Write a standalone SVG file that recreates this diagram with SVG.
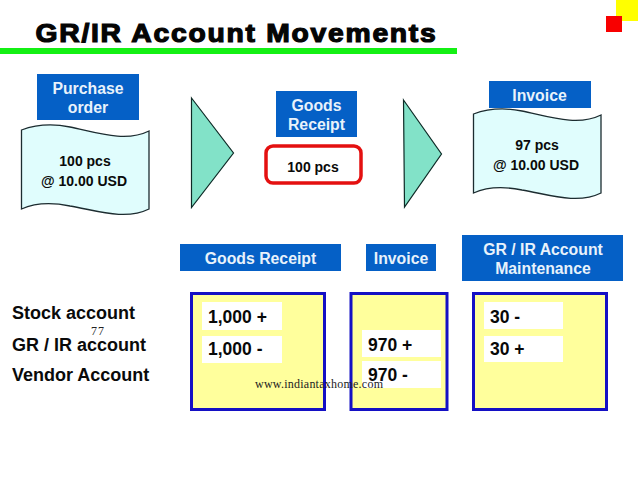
<svg xmlns="http://www.w3.org/2000/svg" width="638" height="479" viewBox="0 0 638 479">
<style>
text{font-family:"Liberation Sans",Arial,sans-serif;font-weight:bold}
.hd{fill:#0560c6}
.ht{fill:#e8f2fb;font-size:15.800px;text-anchor:middle}
.doc{fill:#e0fdfd;stroke:#1c2c30;stroke-width:1.3}
.dt{fill:#0a0a0a;font-size:14px;text-anchor:middle}
.tri{fill:#82e2c8;stroke:#0d2a26;stroke-width:1.2}
.pan{fill:#ffff9c;stroke:#1410c4;stroke-width:3}
.wb{fill:#fff}
.v{fill:#080808;font-size:17.500px}
.l{fill:#0a0a0a;font-size:18px}
.s{font-family:"Liberation Serif",serif;font-weight:normal;fill:#222;font-size:12px}
</style>
<rect width="638" height="479" fill="#fff"/>
<g id="decor">
<rect x="616" y="0" width="22" height="21" fill="#ffff00"/>
<rect x="606" y="16" width="16" height="16" fill="#f80000"/>
</g>
<g id="title">
<text x="35.500" y="42" font-size="26" letter-spacing="1.600" textLength="402" lengthAdjust="spacingAndGlyphs" fill="#050505" stroke="#050505" stroke-width="1.200">GR/IR Account Movements</text>
<rect x="0" y="48" width="457" height="6" fill="#14f014"/>
</g>
<g id="po">
<rect class="hd" x="37" y="74" width="102" height="46"/>
<text class="ht" x="88" y="94">Purchase</text>
<text class="ht" x="88" y="113">order</text>
<path class="doc" d="M21.500 130 C35 125 50 123 70 127 C95 132 125 143 149 131 V209 C125 221 95 210 70 206 C50 202 35 203 21.500 209 Z"/>
<text class="dt" x="85" y="166">100 pcs</text>
<text class="dt" x="84" y="186">@ 10.00 USD</text>
</g>
<g id="gr">
<rect class="hd" x="276" y="91" width="81" height="46"/>
<text class="ht" x="316.500" y="111">Goods</text>
<text class="ht" x="316.500" y="130">Receipt</text>
<rect x="266" y="146" width="95" height="37" rx="7" fill="#fff" stroke="#e41010" stroke-width="3.500"/>
<text class="dt" x="313" y="172">100 pcs</text>
</g>
<g id="inv">
<rect class="hd" x="489" y="81" width="102" height="27"/>
<text class="ht" x="539.500" y="101">Invoice</text>
<path class="doc" d="M473.500 114 C487 109 502 107 522 111 C547 116 577 127 601 115 V193 C577 205 547 194 522 190 C502 186 487 187 473.500 193 Z"/>
<text class="dt" x="537" y="150">97 pcs</text>
<text class="dt" x="536" y="170">@ 10.00 USD</text>
</g>
<g id="connectors">
<polygon class="tri" points="191.500,98 233.500,153 191.500,207.500"/>
<polygon class="tri" points="403.500,100 441.500,154 404.500,207"/>
</g>
<g id="col-gr">
<rect class="hd" x="180" y="244" width="161" height="27"/>
<text class="ht" x="260.500" y="264">Goods Receipt</text>
<rect class="pan" x="191.500" y="293.500" width="133" height="116"/>
<rect class="wb" x="202" y="302" width="80" height="28"/>
<text class="v" x="208" y="323">1,000 +</text>
<rect class="wb" x="202" y="336" width="80" height="27"/>
<text class="v" x="208" y="355">1,000 -</text>
</g>
<g id="col-inv">
<rect class="hd" x="366" y="244" width="70" height="27"/>
<text class="ht" x="401" y="264">Invoice</text>
<rect class="pan" x="351" y="293.500" width="96" height="116"/>
<rect class="wb" x="362" y="330" width="79" height="27"/>
<text class="v" x="368" y="351">970 +</text>
<rect class="wb" x="362" y="361" width="79" height="27"/>
<text class="v" x="368" y="381">970 -</text>
</g>
<g id="col-maint">
<rect class="hd" x="462" y="235" width="161" height="46"/>
<text class="ht" x="543" y="255">GR / IR Account</text>
<text class="ht" x="543" y="274">Maintenance</text>
<rect class="pan" x="473.500" y="293.500" width="133" height="116"/>
<rect class="wb" x="484" y="302" width="79" height="27"/>
<text class="v" x="490" y="323">30 -</text>
<rect class="wb" x="484" y="336" width="79" height="26"/>
<text class="v" x="490" y="355">30 +</text>
</g>
<g id="labels">
<text class="l" x="12" y="319">Stock account</text>
<text class="l" x="12" y="351">GR / IR account</text>
<text class="l" x="12" y="381">Vendor Account</text>
</g>
<g id="watermark">
<text class="s" x="91" y="335" letter-spacing="1">77</text>
<text class="s" x="255" y="388" textLength="128">www.indiantaxhome.com</text>
</g>
</svg>
